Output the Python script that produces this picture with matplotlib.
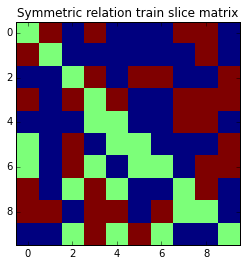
import numpy as np
import matplotlib
matplotlib.use('Agg')
import matplotlib.pyplot as plt

# -1 = sem relacao, 0 = diagonal/neutro, 1 = relacao
B, G, R = -1, 0, 1
rows = [
    [G, R, B, R, B, B, B, R, R, B],
    [R, G, B, B, B, B, B, B, R, B],
    [B, B, G, R, B, R, R, B, B, R],
    [R, B, R, G, R, B, B, R, R, R],
    [B, B, B, G, G, B, B, R, R, B],
    [G, B, R, B, G, G, B, B, B, R],
    [G, B, R, G, B, G, G, B, R, R],
    [R, B, G, R, G, B, B, G, R, B],
    [R, R, B, R, R, B, R, G, G, B],
    [B, B, G, R, G, R, G, B, B, G],
]
matrix = np.array(rows)

plt.style.use('classic')
fig = plt.figure(figsize=(246 / 72, 266 / 72), dpi=72)
ax = fig.add_axes([16 / 246, 21 / 266, 224 / 246, 223 / 266])
ax.imshow(matrix, cmap='jet', interpolation='nearest', vmin=-1, vmax=1)
ax.set_title('Symmetric relation train slice matrix', fontsize=12)
ax.set_xticks([0, 2, 4, 6, 8])
ax.set_yticks([0, 2, 4, 6, 8])
ax.tick_params(labelsize=10)
fig.savefig('out.png', dpi=72)
